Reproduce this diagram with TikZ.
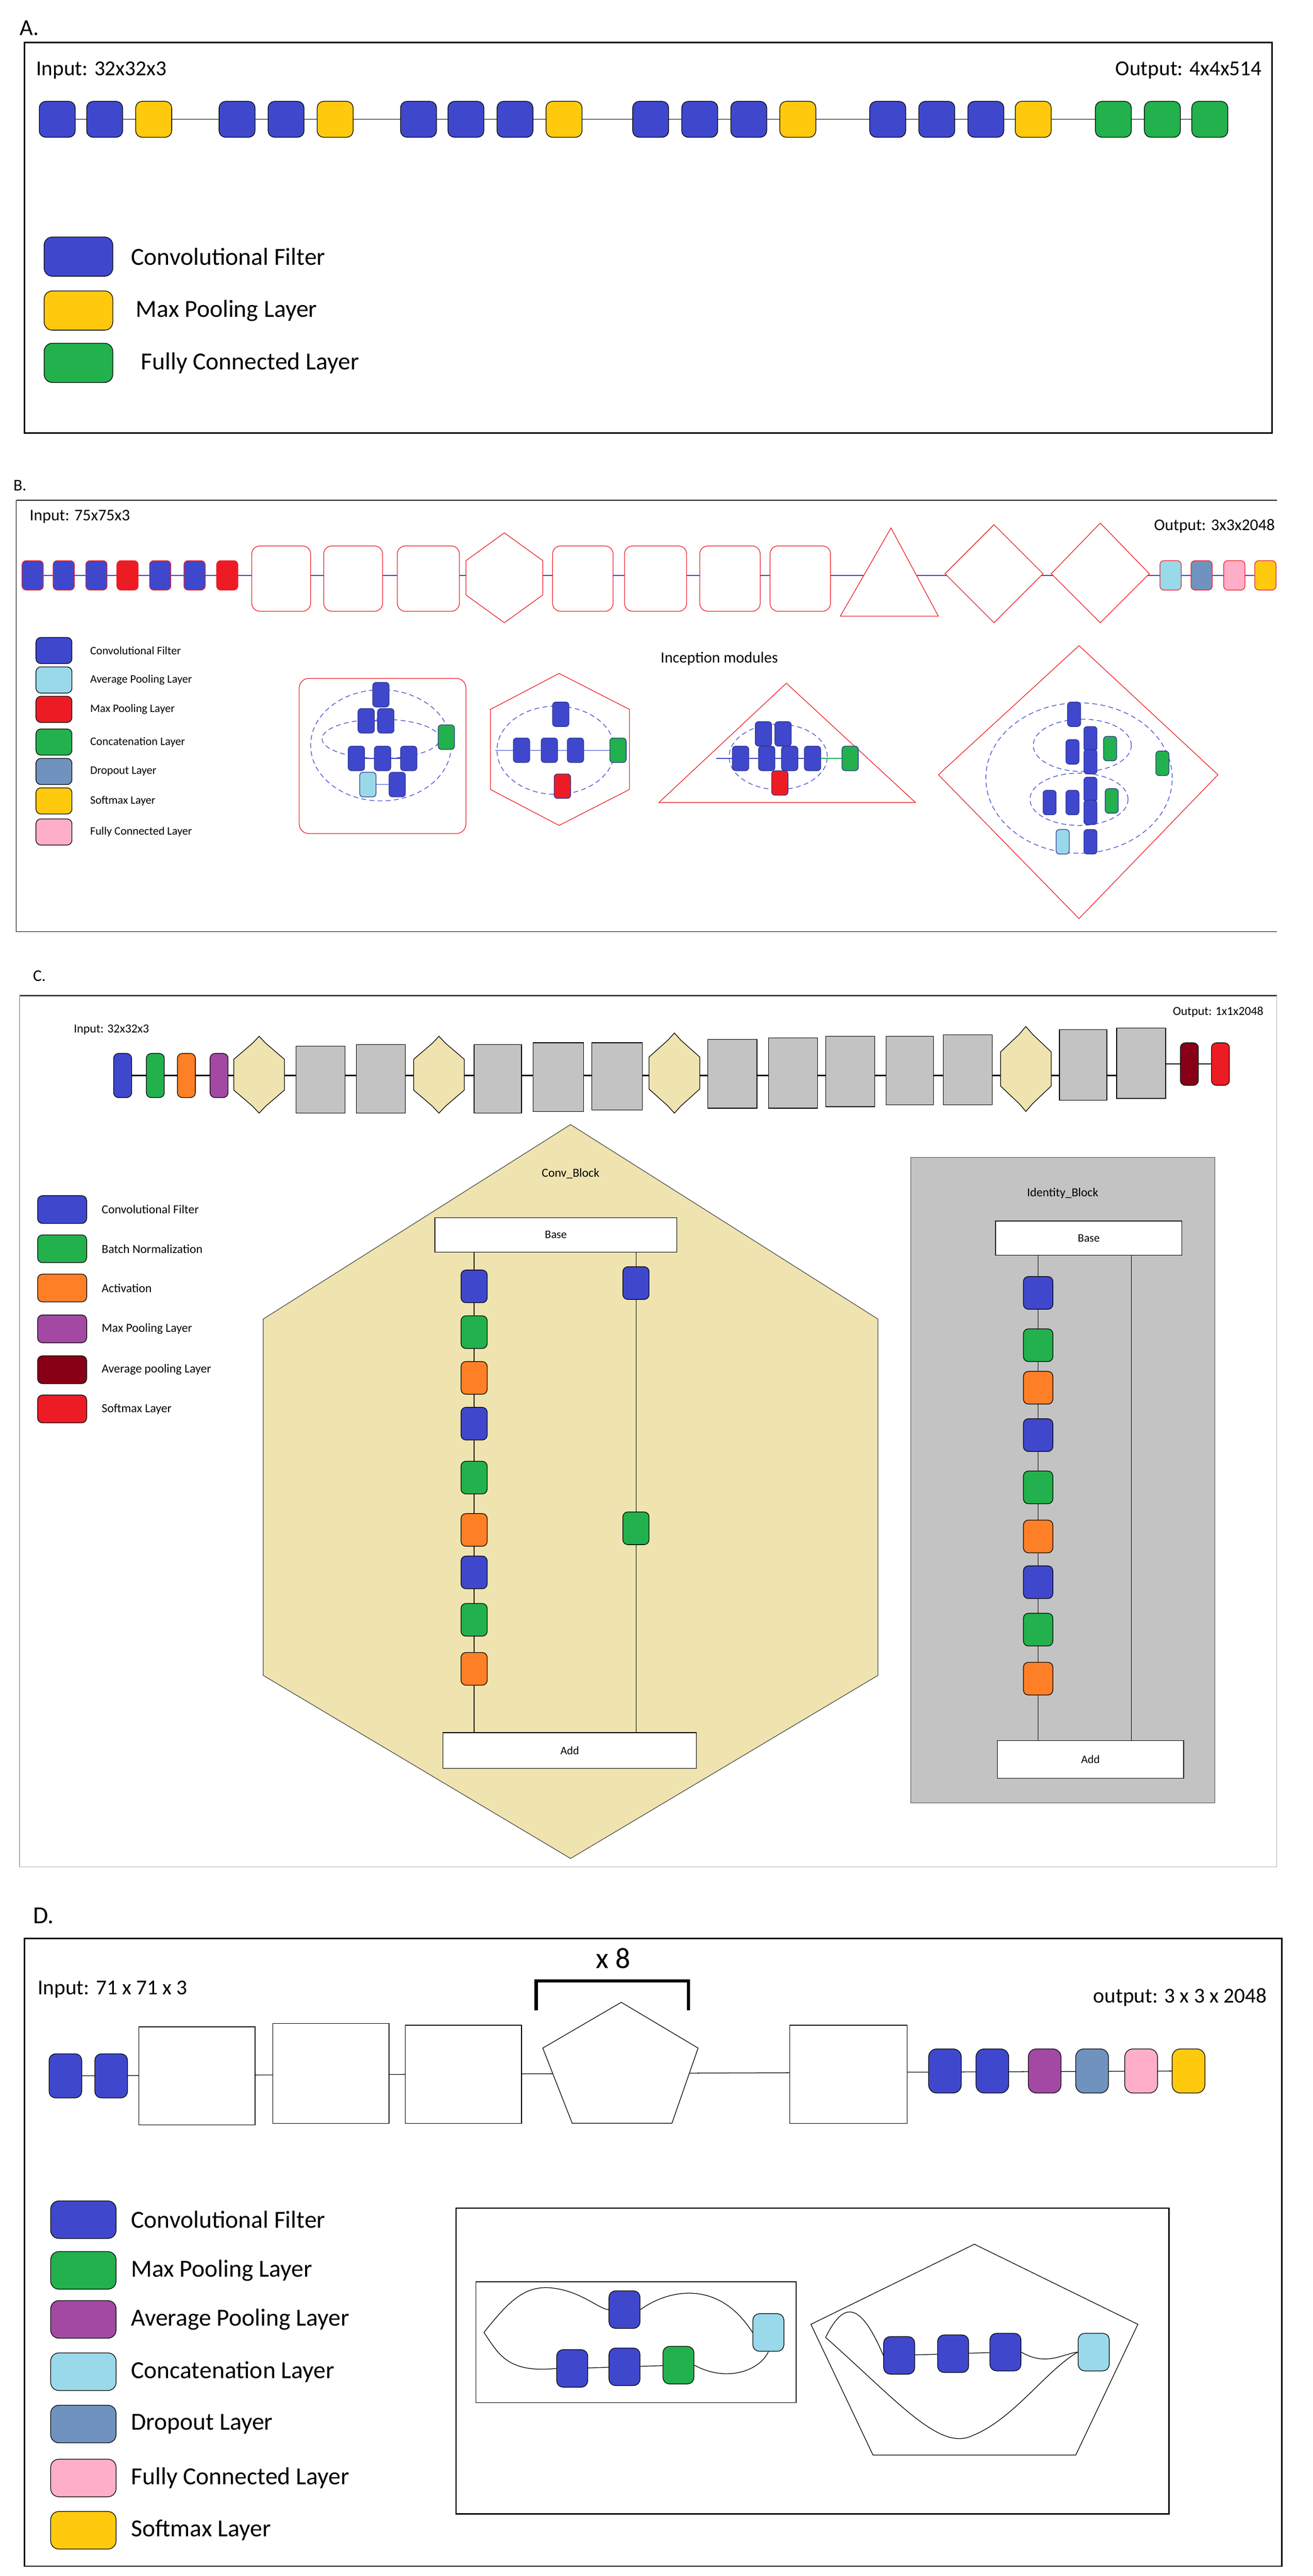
\documentclass[tikz,border=0pt]{standalone}
\usepackage{fontspec}
\setmainfont{Carlito}
\usetikzlibrary{backgrounds}
\definecolor{cb}{HTML}{3F48CC}
\definecolor{cy}{HTML}{FFC90E}
\definecolor{cg}{HTML}{22B14C}
\definecolor{cr}{HTML}{ED1C24}
\definecolor{clb}{HTML}{99D9EA}
\definecolor{cdo}{HTML}{7092BE}
\definecolor{cpk}{HTML}{FFAEC9}
\definecolor{cor}{HTML}{FF7F27}
\definecolor{cpu}{HTML}{A349A4}
\definecolor{cdr}{HTML}{880015}
\definecolor{cbe}{HTML}{EFE4B0}
\definecolor{cgr}{HTML}{C3C3C3}
\newcommand{\fs}[1]{\fontsize{#1}{#1}\selectfont}
\begin{document}
\begin{tikzpicture}[x=1pt,y=-1pt,
  blk/.style={draw=black,rounded corners=4pt,minimum width=22pt,minimum height=22pt,inner sep=0pt},
  sblk/.style={draw=cr,rounded corners=2.5pt,minimum width=13pt,minimum height=18pt,inner sep=0pt},
  mblk/.style={draw=cb!70!black,rounded corners=2pt,minimum width=10pt,minimum height=15pt,inner sep=0pt},
  cblk/.style={draw=black,rounded corners=3pt,minimum width=11pt,minimum height=27pt,inner sep=0pt},
  lab/.style={anchor=west,inner sep=0pt},
  rbox/.style={draw=cr,fill=white,rounded corners=5pt,minimum width=36pt,minimum height=40pt,inner sep=0pt},
  dcurve/.style={cb,densely dashed,line width=0.4pt},
  wbox/.style={draw=black,fill=white,inner sep=0pt}]
\useasboundingbox (0,0) rectangle (803,1576);
% ---------------- A
\node[lab,font=\fs{14}] (la) at (12,17) {A.};
\draw[line width=0.8pt] (15,26) rectangle (778,265);
\node[lab,font=\fs{13}] (ain) at (22,43) {Input: 32x32x3};
\node[anchor=east,inner sep=0pt,font=\fs{13}] (aout) at (772,43) {Output: 4x4x514};
\foreach \x/\c [count=\i] in {35/cb,64/cb,94/cy,145/cb,175/cb,205/cy,256/cb,285/cb,315/cb,345/cy,398/cb,428/cb,458/cb,488/cy,543/cb,573/cb,603/cb,632/cy,681/cg,711/cg,740/cg}
  \node[blk,fill=\c] (a\i) at (\x,73) {};
\foreach \i in {1,...,20}{\pgfmathtruncatemacro\j{\i+1}\draw (a\i) -- (a\j);}
\foreach \y/\c/\t/\dx [count=\i] in {157/cb/Convolutional Filter/80,190/cy/Max Pooling Layer/83,222/cg/Fully Connected Layer/86}{
  \node[blk,fill=\c,minimum width=42pt,minimum height=24pt,rounded corners=5pt] (al\i) at (48,\y) {};
  \node[lab,font=\fs{15}] (alt\i) at (\dx,\y) {\t};}
% ---------------- B
\node[lab,font=\fs{10}] (lb) at (8,297) {B.};
\draw[line width=0.6pt] (10,306) -- (781,306);
\draw[line width=0.4pt] (10,306) -- (10,570) -- (781,570);
\node[lab,font=\fs{10}] (bin) at (18,316) {Input: 75x75x3};
\node[anchor=east,inner sep=0pt,font=\fs{10}] (bout) at (780,322) {Output: 3x3x2048};
\foreach \x/\c [count=\i] in {20/cb,39/cb,59/cb,78/cr,98/cb,119/cb,139/cr}
  \node[sblk,fill=\c] (b\i) at (\x,352) {};
\node[rbox] (bs1) at (172,354) {};
\node[rbox] (bs2) at (216,354) {};
\node[rbox,minimum width=38pt] (bs3) at (262,354) {};
\filldraw[draw=cr,fill=white] (308.5,326) -- (332,343) -- (332,364) -- (308.5,381) -- (285,364) -- (285,343) -- cycle;
\node[rbox,minimum width=37pt] (bs4) at (356.5,354) {};
\node[rbox,minimum width=38pt] (bs5) at (401,354) {};
\node[rbox,minimum width=37pt] (bs6) at (446.5,354) {};
\node[rbox,minimum width=37pt] (bs7) at (489.5,354) {};
\filldraw[draw=cr,fill=white] (545,323) -- (574,377) -- (514,377) -- cycle;
\filldraw[draw=cr,fill=white] (608,321) -- (638,351) -- (608,381) -- (578,351) -- cycle;
\filldraw[draw=cr,fill=white] (673,320) -- (703,351) -- (673,381) -- (643,351) -- cycle;
\foreach \x/\c [count=\i] in {716/clb,735/cdo,755/cpk,774/cy}
  \node[sblk,fill=\c] (bo\i) at (\x,352) {};
\begin{scope}[on background layer]
  \draw[cb,line width=0.7pt] (b1) -- (bo4);
\end{scope}
\foreach \y/\c/\t [count=\i] in {398/cb/Convolutional Filter,416/clb/Average Pooling Layer,434/cr/Max Pooling Layer,454/cg/Concatenation Layer,472/cdo/Dropout Layer,490/cy/Softmax Layer,509/cpk/Fully Connected Layer}{
  \node[blk,fill=\c,minimum width=22pt,minimum height=16pt,rounded corners=3pt] (bl\i) at (33,\y) {};
  \node[lab,font=\fs{7}] (blt\i) at (55,\y) {\t};}
\node[font=\fs{9.5}] (binc) at (440,403) {Inception modules};
% module 1
\draw[cr] (183,415) [rounded corners=6pt] -- (285,415) -- (285,510) -- (183,510) -- cycle;
\draw[dcurve] (233,456) ellipse (43pt and 34pt);
\draw[dcurve] (233,452) ellipse (36pt and 12pt);
\foreach \x/\y/\c [count=\i] in {233/425/cb,224/441/cb,236/441/cb,218/464/cb,234/464/cb,250/464/cb,225/480/clb,243/480/cb,273/451/cg}
  \node[mblk,fill=\c] (m1\i) at (\x,\y) {};
\draw[cb] (m12) -- (m13); \draw[cb] (m14) -- (m15) -- (m16); \draw[cb] (m17) -- (m18);
% module 2
\draw[cr] (342,412) -- (385,434) -- (385,483) -- (342,505) -- (300,483) -- (300,434) -- cycle;
\draw[dcurve] (340,459) ellipse (36pt and 27pt);
\foreach \x/\y/\c [count=\i] in {343/437/cb,319/459/cb,336/459/cb,352/459/cb,344/481/cr,378/459/cg}
  \node[mblk,fill=\c] (m2\i) at (\x,\y) {};
\draw[cb] (303,459) -- (m22) -- (m23) -- (m24) -- (m26);
% module 3
\draw[cr] (481,418) -- (560,491) -- (403,491) -- cycle;
\draw[dcurve] (476,463) ellipse (30pt and 20pt);
\foreach \x/\y/\c [count=\i] in {467/449/cb,479/449/cb,453/464/cb,469/464/cb,483/464/cb,497/464/cb,477/479/cr,520/464/cg}
  \node[mblk,fill=\c] (m3\i) at (\x,\y) {};
\draw[cb] (438,464) -- (m33) -- (m34) -- (m35) -- (m36);
\draw[cg] (m36) -- (m38);
% module 4
\draw[cr] (660,395) -- (745,474) -- (660,562) -- (574,474) -- cycle;
\draw[dcurve] (660,476) ellipse (57pt and 46pt);
\draw[dcurve] (662,456) ellipse (30pt and 16pt);
\draw[dcurve] (660,489) ellipse (30pt and 16pt);
\foreach \x/\y/\c [count=\i] in {657/437/cb,667/452/cb,656/460/cb,667/466/cb,679/458/cg,711/467/cg,667/483/cb,642/491/cb,656/491/cb,667/497/cb,680/490/cg,650/515/clb,667/515/cb}
  \node[mblk,fill=\c,minimum width=8pt] (m4\i) at (\x,\y) {};
% ---------------- C
\node[lab,font=\fs{10}] (lc) at (20,597) {C.};
\draw[black!75,line width=1pt] (12,609) -- (781,609);
\draw[black!30] (12,609) -- (12,1142) -- (781,1142) -- (781,609);
\node[lab,font=\fs{7.5}] (cin) at (45,630) {Input: 32x32x3};
\node[anchor=east,inner sep=0pt,font=\fs{7.5}] (cout) at (773,619) {Output: 1x1x2048};
\foreach \x/\c [count=\i] in {75/cb,95/cg,114/cor,134/cpu}
  \node[cblk,fill=\c] (c\i) at (\x,658) {};
\foreach \xa/\xb/\ya/\yb [count=\i] in {181/211/640/681,218/248/639/681,290/319/639/681,326/357/638/680,362/393/638/679,433/463/636/678,470/500/635/678,505/535/634/677,542/571/634/676,577/607/633/676,648/677/630/673,683/713/629/672}
  \node[draw=black,fill=cgr,inner sep=0pt,minimum width={\xb-\xa},minimum height={\yb-\ya}] (g\i) at ({(\xa+\xb)/2},{(\ya+\yb)/2}) {};
\foreach \xa/\xb/\ya/\yb [count=\i] in {143/174/634/681,253/284/634/681,397/428/632/681,612/643/628/680}{
  \pgfmathsetmacro\xm{(\xa+\xb)/2}\pgfmathsetmacro\h{\yb-\ya}
  \filldraw[fill=cbe,draw=black,line width=0.4pt] (\xm,\ya) -- ({\xm+4},{\ya+0.09*\h}) -- (\xb,{\ya+0.3*\h}) -- (\xb,{\yb-0.3*\h}) -- ({\xm+4},{\yb-0.09*\h}) -- (\xm,\yb) -- ({\xm-4},{\yb-0.09*\h}) -- (\xa,{\yb-0.3*\h}) -- (\xa,{\ya+0.3*\h}) -- ({\xm-4},{\ya+0.09*\h}) -- cycle;}
\node[cblk,fill=cdr,minimum height=26pt] (c5) at (727.5,651) {};
\node[cblk,fill=cr,minimum height=26pt] (c6) at (746.5,651) {};
\begin{scope}[on background layer]
  \draw[line width=0.7pt] (c1.center) -- (g12.center |- c1.center);
\end{scope}
\draw[line width=0.7pt] (g12.east |- c5.center) -- (c5) -- (c6);
\foreach \y/\c/\t [count=\i] in {740/cb/Convolutional Filter,764/cg/Batch Normalization,788/cor/Activation,813/cpu/Max Pooling Layer,838/cdr/Average pooling Layer,862/cr/Softmax Layer}{
  \node[blk,fill=\c,minimum width=30pt,minimum height=17pt,rounded corners=3pt] (cl\i) at (38,\y) {};
  \node[lab,font=\fs{7.5}] (clt\i) at (62,\y) {\t};}
% conv block
\filldraw[fill=cbe,draw=black!70] (349,688) -- (537,807) -- (537,1025) -- (349,1137) -- (161,1025) -- (161,807) -- cycle;
\node[font=\fs{7.5}] (cvt) at (349,718) {Conv\_Block};
\node[wbox,minimum width=148pt,minimum height=21pt,font=\fs{7}] (cbase) at (340,755.5) {Base};
\node[wbox,minimum width=155pt,minimum height=22pt,font=\fs{7}] (cadd) at (348.5,1071) {Add};
\foreach \y/\c [count=\i] in {787/cb,815/cg,843/cor,871/cb,904/cg,936/cor,962/cb,991/cg,1021/cor}
  \node[blk,fill=\c,minimum width=16pt,minimum height=20pt,rounded corners=3pt] (cv\i) at (290,\y) {};
\draw (cbase.south -| cv1) -- (cv1);
\foreach \i in {1,...,8}{\pgfmathtruncatemacro\j{\i+1}\draw (cv\i) -- (cv\j);}
\draw (cv9) -- (cadd.north -| cv9);
\node[blk,fill=cb,minimum width=16pt,minimum height=20pt,rounded corners=3pt] (cr1) at (389,785) {};
\node[blk,fill=cg,minimum width=16pt,minimum height=20pt,rounded corners=3pt] (cr2) at (389,935) {};
\draw (cbase.south -| cr1) -- (cr1) -- (cr2) -- (cadd.north -| cr2);
% identity block
\filldraw[fill=cgr,draw=black!70] (557,708) rectangle (743,1103);
\node[font=\fs{7.5}] (idt) at (650,730) {Identity\_Block};
\node[wbox,minimum width=114pt,minimum height=21pt,font=\fs{7}] (ibase) at (666,757.5) {Base};
\node[wbox,minimum width=114pt,minimum height=23pt,font=\fs{7}] (iadd) at (667,1076.5) {Add};
\foreach \y/\c [count=\i] in {791/cb,823/cg,849/cor,878/cb,910/cg,940/cor,968/cb,997/cg,1027/cor}
  \node[blk,fill=\c,minimum width=18pt,minimum height=20pt,rounded corners=3pt] (iv\i) at (635,\y) {};
\draw (ibase.south -| iv1) -- (iv1);
\foreach \i in {1,...,8}{\pgfmathtruncatemacro\j{\i+1}\draw (iv\i) -- (iv\j);}
\draw (iv9) -- (iadd.north -| iv9);
\coordinate (ir1) at (692,768);
\coordinate (ir2) at (692,1065);
\draw (ir1) -- (ir2);
% ---------------- D
\node[lab,font=\fs{15}] (ld) at (20,1172) {D.};
\draw[line width=0.9pt] (15,1186) rectangle (784,1570);
\node[lab,font=\fs{13}] (din) at (23,1217) {Input: 71 x 71 x 3};
\node[anchor=east,inner sep=0pt,font=\fs{13}] (dout) at (775,1222) {output: 3 x 3 x 2048};
\node[font=\fs{18}] (dx8) at (375,1198) {x 8};
\draw[line width=2pt] (328,1230) -- (328,1212) -- (421,1212) -- (421,1230);
\node[blk,fill=cb,minimum width=20pt,minimum height=27pt] (d1) at (40,1270) {};
\node[blk,fill=cb,minimum width=20pt,minimum height=27pt] (d2) at (68,1270) {};
\node[wbox,minimum width=71pt,minimum height=60pt] (db1) at (120.5,1270) {};
\node[wbox,minimum width=71pt,minimum height=61pt] (db2) at (202.5,1268.5) {};
\node[wbox,minimum width=71pt,minimum height=60pt] (db3) at (283.5,1269) {};
\filldraw[fill=white,draw=black] (380,1225) -- (427,1253) -- (411,1299) -- (350,1299) -- (332,1253) -- cycle;
\node[wbox,minimum width=72pt,minimum height=60pt] (db4) at (519,1269) {};
\foreach \x/\c [count=\i] in {578/cb,607/cb,639/cpu,668/cdo,698/cpk,727/cy}
  \node[blk,fill=\c,minimum width=20pt,minimum height=27pt,rounded corners=5pt] (dr\i) at (\x,1267) {};
\begin{scope}[on background layer]
  \draw (d1) -- (dr6);
\end{scope}
\foreach \y/\c/\t [count=\i] in {1358/cb/Convolutional Filter,1389/cg/Max Pooling Layer,1419/cpu/Average Pooling Layer,1451/clb/Concatenation Layer,1483/cdo/Dropout Layer,1516/cpk/Fully Connected Layer,1548/cy/Softmax Layer}{
  \node[blk,fill=\c,minimum width=40pt,minimum height=23pt,rounded corners=5pt] (dl\i) at (51,\y) {};
  \node[lab,font=\fs{15}] (dlt\i) at (80,\y) {\t};}
\draw[line width=0.7pt] (279,1351) rectangle (715,1538);
\draw (291,1396) rectangle (487,1470);
\coordinate (dL) at (296,1427);
\node[blk,fill=cb,minimum width=19pt,minimum height=23pt] (dt1) at (382,1413) {};
\node[blk,fill=cb,minimum width=19pt,minimum height=23pt] (dt2) at (350,1449) {};
\node[blk,fill=cb,minimum width=19pt,minimum height=23pt] (dt3) at (382,1448) {};
\node[blk,fill=cg,minimum width=19pt,minimum height=23pt] (dt4) at (415,1447) {};
\node[blk,fill=clb,minimum width=19pt,minimum height=23pt] (dt5) at (470,1427) {};
\draw (dt2) -- (dt3) -- (dt4);
\draw (dL) .. controls (315,1403) and (325,1395) .. (348,1402) .. controls (360,1406) and (368,1413) .. (dt1.west);
\draw (dL) .. controls (305,1440) and (310,1452) .. (dt2.west);
\draw (dt1.east) .. controls (410,1400) and (440,1395) .. (dt5.west);
\draw (dt4.east) .. controls (445,1458) and (465,1450) .. (dt5.south);
\draw (596,1373) -- (696,1422) -- (658,1502) -- (534,1502) -- (496,1422) -- cycle;
\coordinate (dP) at (505,1430);
\node[blk,fill=cb,minimum width=19pt,minimum height=23pt] (dp1) at (550,1441) {};
\node[blk,fill=cb,minimum width=19pt,minimum height=23pt] (dp2) at (583,1440) {};
\node[blk,fill=cb,minimum width=19pt,minimum height=23pt] (dp3) at (615,1439) {};
\node[blk,fill=clb,minimum width=19pt,minimum height=23pt] (dp4) at (669,1439) {};
\draw (dp1) -- (dp2) -- (dp3);
\draw (dP) .. controls (515,1410) and (525,1405) .. (dp1.west);
\draw (dP) .. controls (550,1470) and (575,1500) .. (595,1490) .. controls (620,1480) and (640,1450) .. (dp4.west);
\draw (dp3.east) .. controls (640,1448) and (650,1440) .. (dp4.west);
\end{tikzpicture}
\end{document}
